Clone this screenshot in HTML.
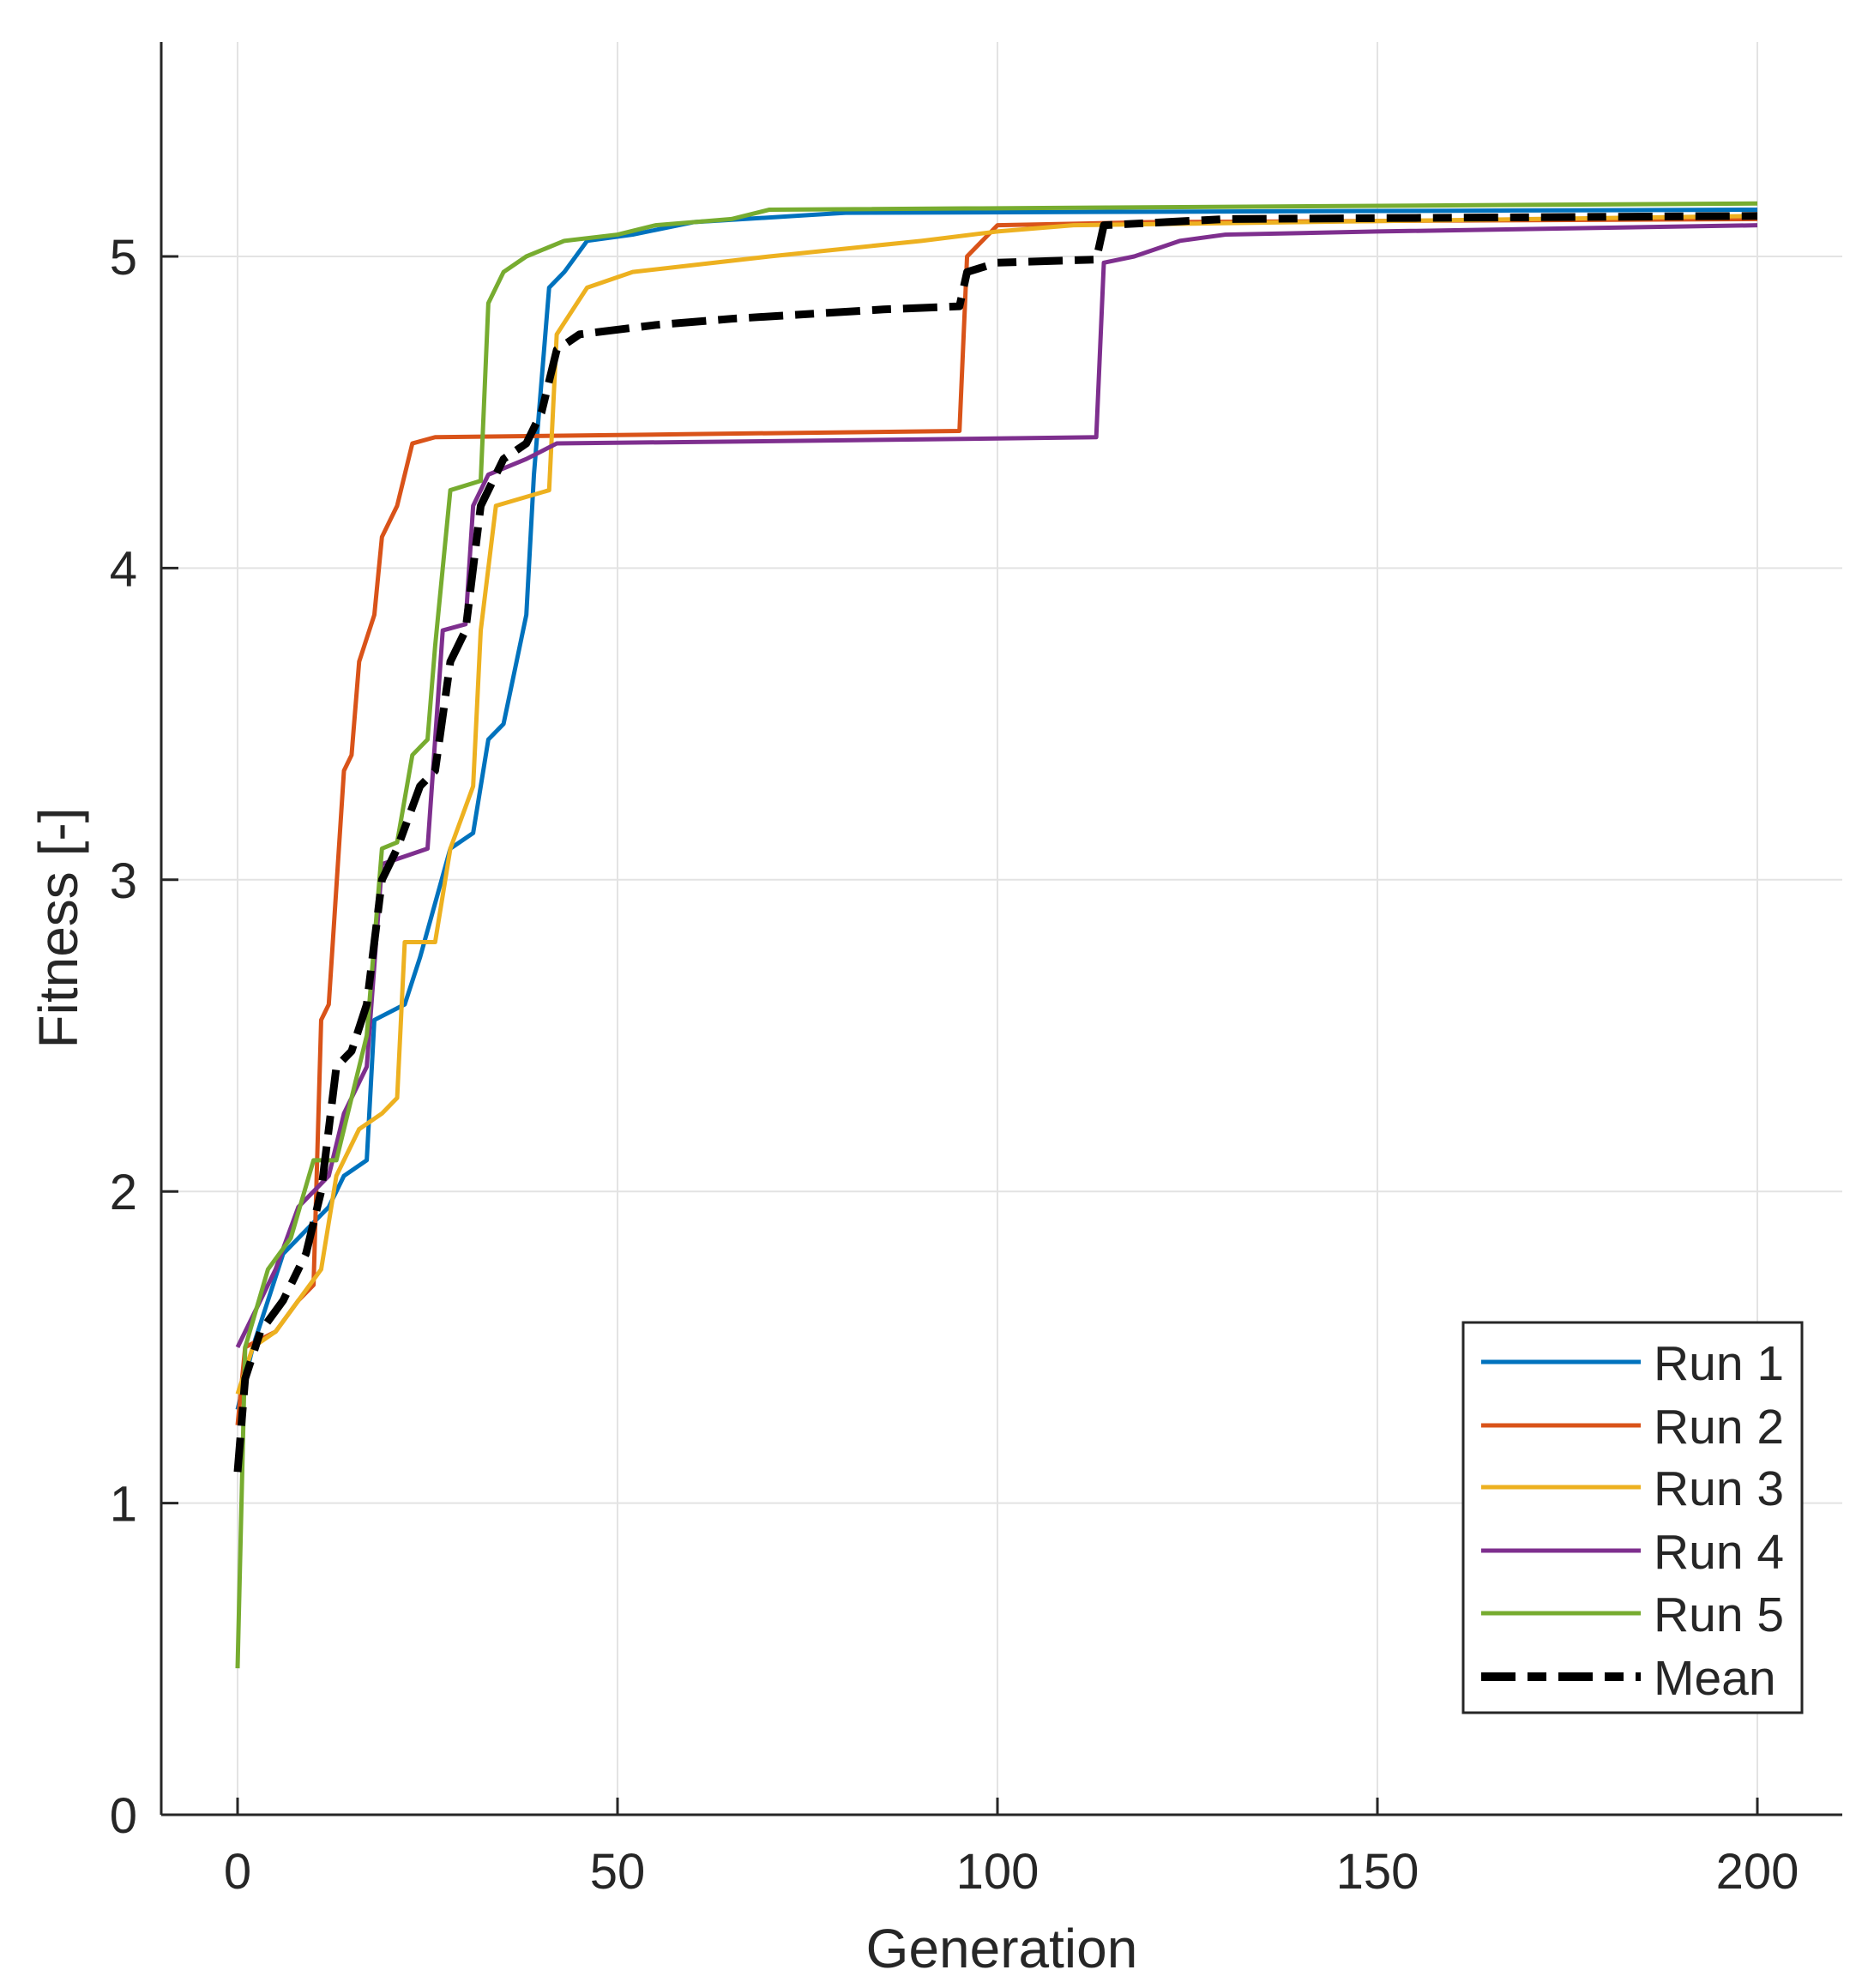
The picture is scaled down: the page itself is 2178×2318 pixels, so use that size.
<!DOCTYPE html>
<html><head><meta charset="utf-8"><style>
html,body{margin:0;padding:0;background:#fff;}
svg{display:block;}
text{font-family:"Liberation Sans",Arial,sans-serif;fill:#262626;}
</style></head><body>
<svg id="s" width="2178" height="2318" viewBox="0 0 2178 2318" xmlns="http://www.w3.org/2000/svg">
<rect width="2178" height="2318" fill="#fff"/>
<g id="grid" stroke="#e3e3e3" stroke-width="2"></g>
<g id="series" fill="none" stroke-linejoin="round"></g>
<g stroke="#262626" stroke-width="3" fill="none">
<line x1="188" y1="2116" x2="2148" y2="2116"/>
<line x1="188" y1="49" x2="188" y2="2116"/>
</g>
<g id="ticks" stroke="#262626" stroke-width="3"></g>
<g id="labels" font-size="58"></g>
<text x="1168" y="2294" font-size="64" text-anchor="middle">Generation</text>
<text transform="translate(90,1082) rotate(-90)" font-size="64" text-anchor="middle">Fitness [-]</text>
<rect x="1706" y="1542" width="395" height="455" fill="#fff" stroke="#262626" stroke-width="3"/>
<g id="legend" font-size="57"></g>
</svg>
<script>
const X=g=>277+8.86*g, Y=f=>2116-363.4*f;
const ns="http://www.w3.org/2000/svg";
function el(p,t,a,txt){const e=document.createElementNS(ns,t);for(const k in a)e.setAttribute(k,a[k]);if(txt!==undefined)e.textContent=txt;document.getElementById(p).appendChild(e);return e;}
for(const g of [0,50,100,150,200]){el('grid','line',{x1:X(g),y1:49,x2:X(g),y2:2116});el('ticks','line',{x1:X(g),y1:2116,x2:X(g),y2:2096});el('labels','text',{x:X(g),y:2202,'text-anchor':'middle'},g);}
for(const f of [1,2,3,4,5]){el('grid','line',{x1:188,y1:Y(f),x2:2148,y2:Y(f)});}
for(const f of [0,1,2,3,4,5]){el('ticks','line',{x1:188,y1:Y(f),x2:208,y2:Y(f)});el('labels','text',{x:160,y:Y(f)+21,'text-anchor':'end'},f);}
const S=[
["#0072BD",[[0,1.3],[2,1.5],[6,1.8],[12,1.95],[14,2.05],[17,2.1],[18,2.55],[22,2.6],[24,2.75],[28,3.1],[31,3.15],[33,3.45],[35,3.5],[38,3.85],[39,4.3],[41,4.9],[43,4.95],[46,5.05],[52,5.07],[60,5.11],[80,5.14],[200,5.15]]],
["#D95319",[[0,1.25],[1,1.5],[5,1.55],[8,1.65],[10,1.7],[11,2.55],[12,2.6],[14,3.35],[15,3.4],[16,3.7],[18,3.85],[19,4.1],[21,4.2],[23,4.4],[26,4.42],[60,4.43],[95,4.44],[96,5.0],[100,5.1],[120,5.11],[200,5.12]]],
["#EDB120",[[0,1.35],[2,1.5],[5,1.55],[8,1.65],[11,1.75],[13,2.05],[16,2.2],[19,2.25],[21,2.3],[22,2.8],[26,2.8],[28,3.1],[31,3.3],[32,3.8],[34,4.2],[41,4.25],[42,4.75],[46,4.9],[52,4.95],[70,5.0],[90,5.05],[100,5.08],[110,5.1],[200,5.13]]],
["#7E2F8E",[[0,1.5],[2,1.6],[5,1.75],[8,1.95],[12,2.05],[14,2.25],[17,2.4],[19,3.05],[25,3.1],[27,3.8],[30,3.82],[31,4.2],[33,4.3],[38,4.35],[42,4.4],[80,4.41],[113,4.42],[114,4.98],[118,5.0],[124,5.05],[130,5.07],[150,5.08],[200,5.1]]],
["#77AC30",[[0,0.47],[1,1.5],[4,1.75],[7,1.85],[10,2.1],[13,2.1],[17,2.5],[19,3.1],[21,3.12],[23,3.4],[25,3.45],[26,3.75],[28,4.25],[32,4.28],[33,4.85],[35,4.95],[38,5.0],[43,5.05],[50,5.07],[55,5.1],[65,5.12],[70,5.15],[200,5.17]]],
];
for(const [c,p] of S) el('series','polyline',{points:p.map(q=>X(q[0])+','+Y(q[1])).join(' '),stroke:c,'stroke-width':5});
const M=[[0,1.1],[1,1.4],[3,1.55],[6,1.65],[9,1.8],[11,2.0],[13,2.4],[15,2.45],[17,2.6],[19,3.0],[21,3.1],[24,3.3],[26,3.35],[28,3.7],[30,3.8],[32,4.2],[35,4.35],[38,4.4],[40,4.5],[42,4.7],[45,4.75],[55,4.78],[65,4.8],[85,4.83],[95,4.84],[96,4.95],[100,4.98],[113,4.99],[114,5.1],[130,5.12],[200,5.13]];
el('series','polyline',{points:M.map(q=>X(q[0])+','+Y(q[1])).join(' '),stroke:"#000",'stroke-width':9,'stroke-dasharray':'40 14 22 14'});
const L=[["#0072BD","Run 1"],["#D95319","Run 2"],["#EDB120","Run 3"],["#7E2F8E","Run 4"],["#77AC30","Run 5"],["#000","Mean"]];
const ys=[1588,1662,1734,1808,1881,1955];
L.forEach((l,i)=>{const a={x1:1727,y1:ys[i],x2:1913,y2:ys[i],stroke:l[0],'stroke-width':i==5?10:5};if(i==5)a['stroke-dasharray']='40 14 22 14';el('legend','line',a);el('legend','text',{x:1928,y:ys[i]+21},l[1]);});
</script>
</body></html>
